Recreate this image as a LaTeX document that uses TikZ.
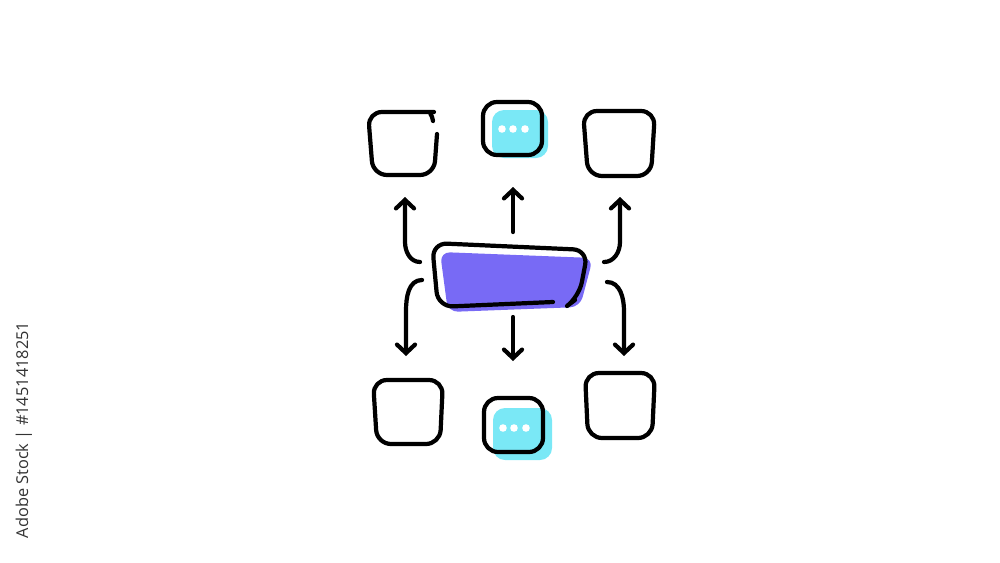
\documentclass[tikz,border=0pt]{standalone}
\usepackage{fontspec}
\setsansfont{Open Sans}
\usetikzlibrary{arrows.meta, calc}

\definecolor{slate}{RGB}{120,106,245}
\definecolor{aqua}{RGB}{122,232,246}

\tikzset{
  ink/.style={black, line width=2.4pt, line cap=round, line join=round},
  flow/.style={ink, -{Straight Barb[length=1.7mm, width=3.6mm, line cap=round]}},
  card/.style={ink, rounded corners=2.8mm},
}

\begin{document}
\begin{tikzpicture}[x=0.2mm, y=-0.2mm]

\useasboundingbox (0,0) rectangle (1000,562);

% watermark id on the left edge
\node[rotate=90, text=black!80, font=\sffamily\fontsize{9.3}{11}\selectfont] (stockid) at (24,430) {Adobe Stock | \#1451418251};

% top row
\draw[card] (437,134) -- (434,175) -- (373,175) -- (368,112) -- (420,112) to[out=0, in=90] (433,121);
\fill[aqua, rounded corners=2.4mm] (492,110) rectangle (548,158);
\draw[card] (483,102) rectangle (542,155);
\foreach \dx in {502,513,525} \fill[white] (\dx,129) circle (3.8);
\draw[card] (583,111) -- (655,111) -- (651,176) -- (588,176) -- cycle;

% bottom row
\draw[card] (373,380) -- (443,380) -- (440,444) -- (377,444) -- cycle;
\fill[aqua, rounded corners=2.4mm] (493,408) rectangle (552,460);
\draw[card] (484,398) rectangle (543,452);
\foreach \dx in {503,514,526} \fill[white] (\dx,428) circle (3.8);
\draw[card] (585,373) -- (655,373) -- (652,438) -- (588,438) -- cycle;

% centre block
\fill[slate, rounded corners=2mm] (440,252) -- (593,258) -- (580,307) -- (448,312) -- cycle;
\draw[ink, rounded corners=3mm] (553,302) -- (438,307) -- (432,243) -- (588,250) -- (579,297) -- (575,300);

% arrows
\coordinate (ul) at (420,262);  \coordinate (ulend) at (405,197);
\coordinate (um) at (513,232);  \coordinate (umend) at (513,187);
\coordinate (ur) at (604,262);  \coordinate (urend) at (620,197);
\coordinate (ll) at (422,280);  \coordinate (llend) at (406,356);
\coordinate (lm) at (513,317);  \coordinate (lmend) at (513,361);
\coordinate (lr) at (607,282);  \coordinate (lrend) at (624,356);

\draw[flow] (ul) to[out=180, in=-90] ($(ulend)+(0,45)$) -- (ulend);
\draw[flow] (um) -- (umend);
\draw[flow] (ur) to[out=0, in=-90] ($(urend)+(0,45)$) -- (urend);
\draw[flow] (ll) to[out=180, in=90] ($(llend)+(0,-45)$) -- (llend);
\draw[flow] (lm) -- (lmend);
\draw[flow] (lr) to[out=0, in=90] ($(lrend)+(0,-45)$) -- (lrend);

\end{tikzpicture}
\end{document}
